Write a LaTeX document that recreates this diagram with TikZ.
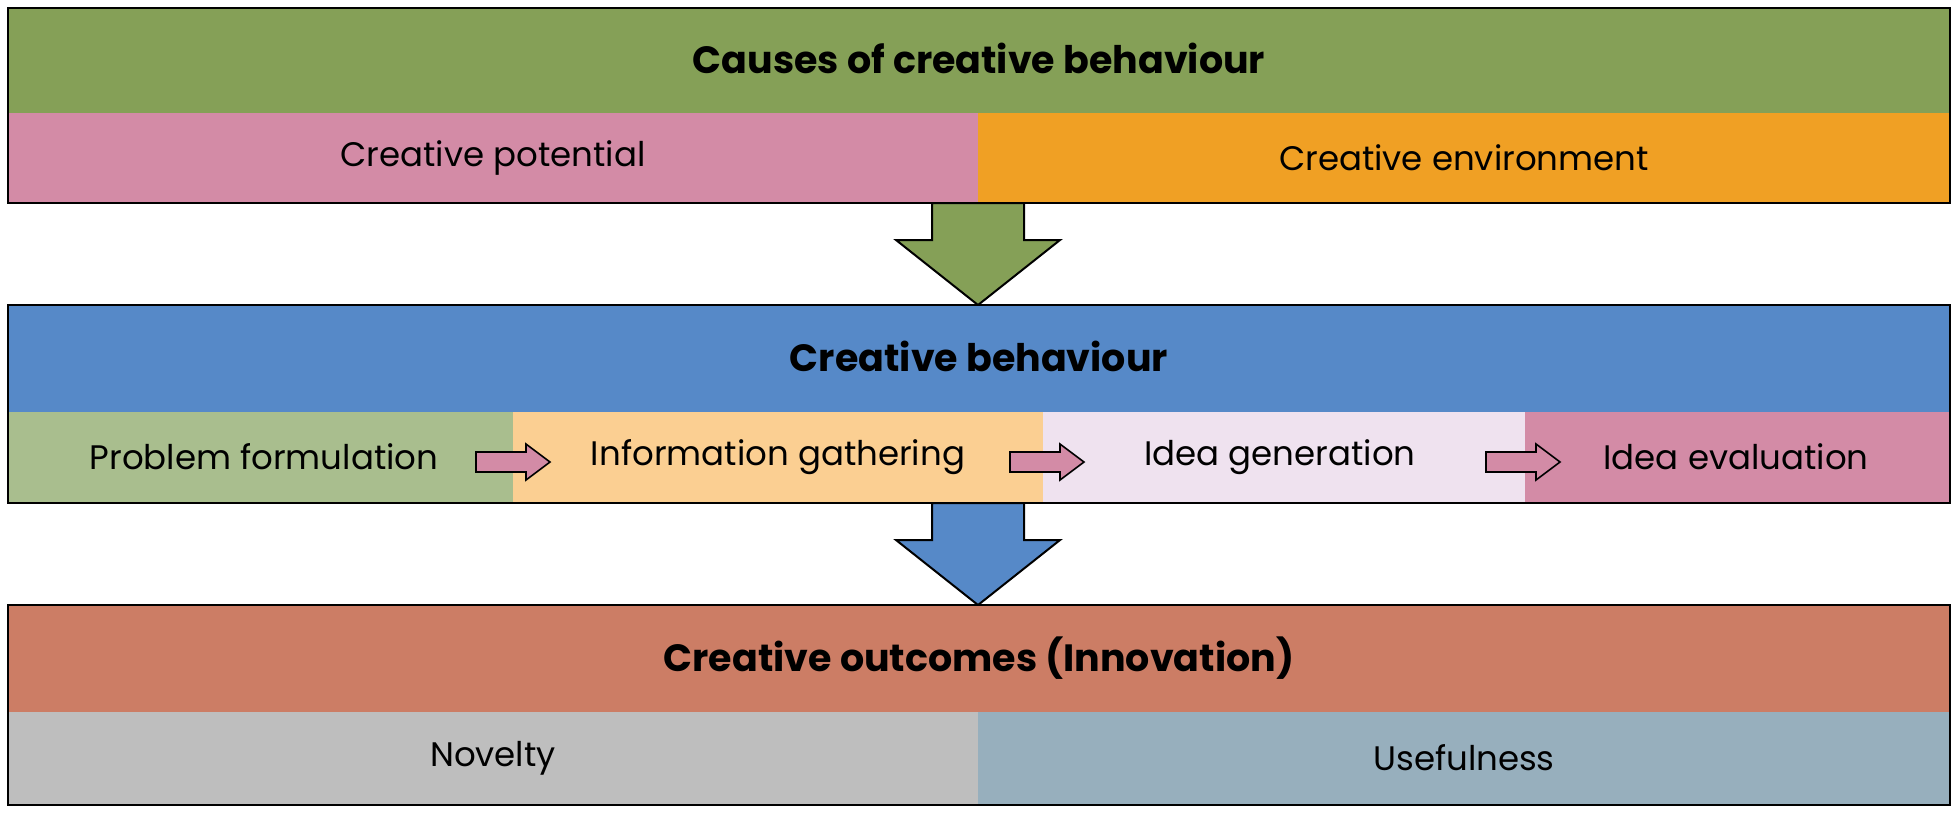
\documentclass[tikz,border=0pt]{standalone}
\usepackage{fontspec}
\setmainfont{Poppins}
\begin{document}
\begin{tikzpicture}[x=0.5pt,y=-0.5pt,
  band/.style={draw=black,line width=1pt},
  ttl/.style={font=\fontsize{19}{22}\selectfont\bfseries},
  lbl/.style={font=\fontsize{17}{20}\selectfont},
  bigarrow/.style={draw=black,line width=1pt},
  smallarrow/.style={draw=black,line width=0.8pt,fill=cpink}]
\definecolor{cgreen}{HTML}{85A057}\definecolor{cpink}{HTML}{D38BA6}
\definecolor{corange}{HTML}{F0A024}\definecolor{cblue}{HTML}{5689C8}
\definecolor{cgg}{HTML}{A9BE8E}\definecolor{cpeach}{HTML}{FBCF92}
\definecolor{clav}{HTML}{EFE2EF}\definecolor{csalmon}{HTML}{CC7D65}
\definecolor{cgrey}{HTML}{BEBEBE}\definecolor{cbg}{HTML}{97AFBD}
\useasboundingbox (0,0) rectangle (1958,816);
% box 1
\fill[cgreen] (8,8) rectangle (1950,113);
\fill[cpink] (8,113) rectangle (978,203);
\fill[corange] (978,113) rectangle (1950,203);
\draw[band] (8,8) rectangle (1950,203);
\node[ttl] (t1) at (979,58) {Causes of creative behaviour};
\node[lbl] (a1) at (493,158) {Creative potential};
\node[lbl] (a2) at (1464,158) {Creative environment};
% arrow 1
\draw[bigarrow,fill=cgreen] (932,203) -- (1024,203) -- (1024,240) -- (1060,240) -- (978,305) -- (896,240) -- (932,240) -- cycle;
% box 2
\fill[cblue] (8,305) rectangle (1950,412);
\fill[cgg] (8,412) rectangle (513,503);
\fill[cpeach] (513,412) rectangle (1043,503);
\fill[clav] (1043,412) rectangle (1525,503);
\fill[cpink] (1525,412) rectangle (1950,503);
\draw[band] (8,305) rectangle (1950,503);
\node[ttl] (t2) at (979,356) {Creative behaviour};
\node[lbl] (b1) at (264,457) {Problem formulation};
\node[lbl] (b2) at (778,457) {Information gathering};
\node[lbl] (b3) at (1280,457) {Idea generation};
\node[lbl] (b4) at (1736,457) {Idea evaluation};
\foreach \x in {476,1010,1486}{
  \draw[smallarrow] (\x,452) -- (\x+50,452) -- (\x+50,444) -- (\x+74,462) -- (\x+50,480) -- (\x+50,472) -- (\x,472) -- cycle;}
% arrow 2
\draw[bigarrow,fill=cblue] (932,503) -- (1024,503) -- (1024,540) -- (1060,540) -- (978,605) -- (896,540) -- (932,540) -- cycle;
% box 3
\fill[csalmon] (8,605) rectangle (1950,712);
\fill[cgrey] (8,712) rectangle (978,805);
\fill[cbg] (978,712) rectangle (1950,805);
\draw[band] (8,605) rectangle (1950,805);
\node[ttl] (t3) at (979,658) {Creative outcomes (Innovation)};
\node[lbl] (c1) at (493,758) {Novelty};
\node[lbl] (c2) at (1464,758) {Usefulness};
\end{tikzpicture}
\end{document}
